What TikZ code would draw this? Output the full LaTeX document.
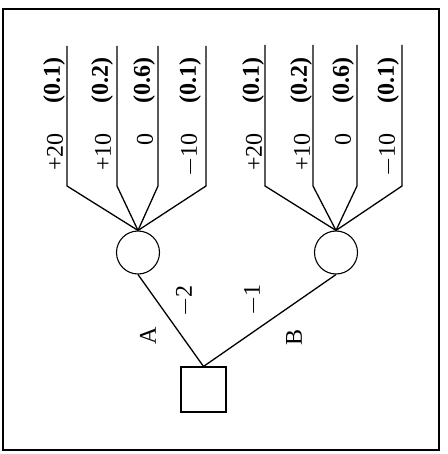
\documentclass[tikz,border=0pt]{standalone}
\usepackage{fontspec}
\setmainfont{Liberation Serif}
\begin{document}
\begin{tikzpicture}[x=1pt,y=-1pt,
  lin/.style={line width=1.3pt},
  val/.style={rotate=90,anchor=east,inner sep=0pt,font=\fontsize{24}{28}\selectfont},
  prob/.style={rotate=90,anchor=east,inner sep=0pt,font=\fontsize{24}{28}\selectfont\bfseries},
  lab/.style={rotate=90,inner sep=0pt,font=\fontsize{24}{28}\selectfont},
  chance/.style={circle,draw,line width=1.1pt,minimum size=43pt,inner sep=0pt},
  decision/.style={rectangle,draw,line width=1.1pt,minimum size=45pt,inner sep=0pt}]
\useasboundingbox (0,0) rectangle (447,454);
\draw[line width=1.4pt] (3,9) rectangle (439,450);
\node[decision] (sq) at (203.5,389.5) {};
\node[chance] (cL) at (138,252.5) {};
\node[chance] (cR) at (336,252.5) {};
\draw[lin] (sq.north) -- (cL.south);
\draw[lin] (sq.north) -- (cR.south);
% left fan
\foreach \n/\x in {1/67,2/117,3/158,4/206}{
  \coordinate (lb\n) at (\x,186);
  \coordinate (lt\n) at (\x,46);
  \draw[lin] (cL.north) -- (lb\n) -- (lt\n);
}
\foreach \n/\x in {1/265,2/313,3/357,4/402}{
  \coordinate (rb\n) at (\x,186);
  \coordinate (rt\n) at (\x,45);
  \draw[lin] (cR.north) -- (rb\n) -- (rt\n);
}
% left labels
\node[val] (lv1) at (55,133) {+20};
\node[val] (lv2) at (103,133) {+10};
\node[val] (lv3) at (145,133) {0};
\node[val] (lv4) at (190,133) {$-$10};
\node[prob] (lp1) at (54,57) {(0.1)};
\node[prob] (lp2) at (102,57) {(0.2)};
\node[prob] (lp3) at (144,57) {(0.6)};
\node[prob] (lp4) at (190,57) {(0.1)};
% right labels
\node[val] (rv1) at (254,133) {+20};
\node[val] (rv2) at (302,133) {+10};
\node[val] (rv3) at (343,133) {0};
\node[val] (rv4) at (388,133) {$-$10};
\node[prob] (rp1) at (253,57) {(0.1)};
\node[prob] (rp2) at (301,57) {(0.2)};
\node[prob] (rp3) at (343,57) {(0.6)};
\node[prob] (rp4) at (388,57) {(0.1)};
% branch labels
\node[lab] (la) at (148,336) {A};
\node[lab] (lm2) at (185,301) {$-$2};
\node[lab] (lm1) at (253,300) {$-$1};
\node[lab] (lb) at (294,337) {B};
\end{tikzpicture}
\end{document}
